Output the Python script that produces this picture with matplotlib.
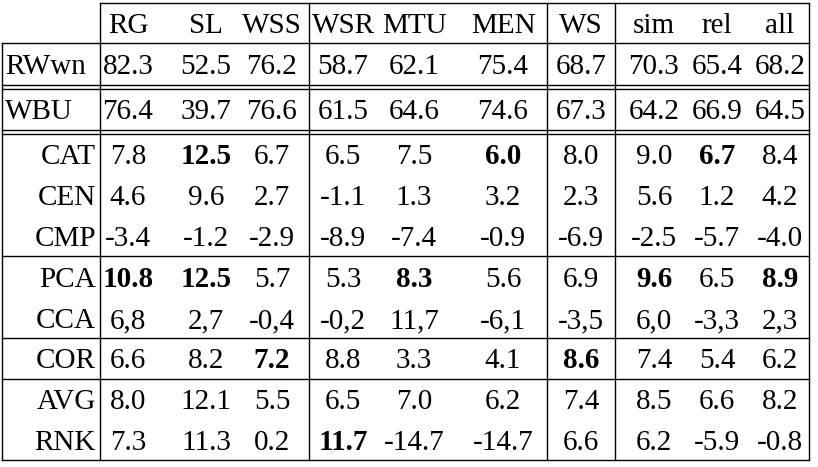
import matplotlib
matplotlib.use("Agg")
import matplotlib.pyplot as plt

columns = ["RG", "SL", "WSS", "WSR", "MTU", "MEN", "WS", "sim", "rel", "all"]
rows = ["RWwn", "WBU", "CAT", "CEN", "CMP", "PCA", "CCA", "COR", "AVG", "RNK"]
values = [
    ["82.3", "52.5", "76.2", "58.7", "62.1", "75.4", "68.7", "70.3", "65.4", "68.2"],
    ["76.4", "39.7", "76.6", "61.5", "64.6", "74.6", "67.3", "64.2", "66.9", "64.5"],
    ["7.8", "12.5", "6.7", "6.5", "7.5", "6.0", "8.0", "9.0", "6.7", "8.4"],
    ["4.6", "9.6", "2.7", "-1.1", "1.3", "3.2", "2.3", "5.6", "1.2", "4.2"],
    ["-3.4", "-1.2", "-2.9", "-8.9", "-7.4", "-0.9", "-6.9", "-2.5", "-5.7", "-4.0"],
    ["10.8", "12.5", "5.7", "5.3", "8.3", "5.6", "6.9", "9.6", "6.5", "8.9"],
    ["6,8", "2,7", "-0,4", "-0,2", "11,7", "-6,1", "-3,5", "6,0", "-3,3", "2,3"],
    ["6.6", "8.2", "7.2", "8.8", "3.3", "4.1", "8.6", "7.4", "5.4", "6.2"],
    ["8.0", "12.1", "5.5", "6.5", "7.0", "6.2", "7.4", "8.5", "6.6", "8.2"],
    ["7.3", "11.3", "0.2", "11.7", "-14.7", "-14.7", "6.6", "6.2", "-5.9", "-0.8"],
]
bold = {(2, 1), (2, 5), (2, 8), (5, 0), (5, 1), (5, 4), (5, 7), (5, 9), (7, 2), (7, 6), (9, 3)}

plt.rcParams["font.family"] = "Liberation Serif"
W, H = 818, 467
fig = plt.figure(figsize=(W / 100, H / 100), dpi=100)
ax = fig.add_axes([0, 0, 1, 1])
ax.set_xlim(0, W)
ax.set_ylim(H, 0)
ax.axis("off")
fs = 21

col_x = [128, 206, 272, 343, 414, 503, 581, 654, 717, 780]
row_y = [64, 109, 154, 195, 236, 277, 318, 358, 399, 440]
header_y = 23
off = 10  # center -> baseline

lw = 1.0
k = "black"
ax.plot([100, 809], [3, 3], color=k, lw=lw)
ax.plot([2, 809], [43, 43], color=k, lw=lw)
for y in [85, 89, 130, 134, 256, 338, 379, 460]:
    ax.plot([2, 809], [y, y], color=k, lw=lw)
ax.plot([2, 2], [43, 460], color=k, lw=lw)
for x in [100, 309, 547, 615, 809]:
    ax.plot([x, x], [3, 460], color=k, lw=lw)

for j, c in enumerate(columns):
    ax.text(col_x[j], header_y + off, c, ha="center", va="baseline", fontsize=fs)
for i, r in enumerate(rows):
    if i < 2:
        ax.text(5, row_y[i] + off, r, ha="left", va="baseline", fontsize=fs)
    else:
        ax.text(96, row_y[i] + off, r, ha="right", va="baseline", fontsize=fs)
    for j, v in enumerate(values[i]):
        ax.text(col_x[j], row_y[i] + off, v, ha="center", va="baseline", fontsize=fs,
                fontweight="bold" if (i, j) in bold else "normal")

fig.savefig("out.png", dpi=100)
